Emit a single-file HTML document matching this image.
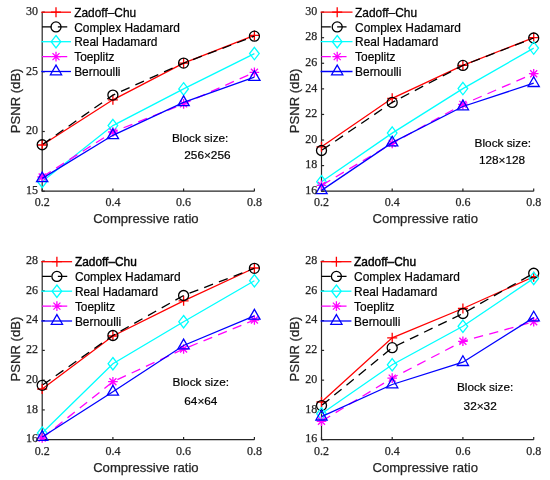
<!DOCTYPE html>
<html><head><meta charset="utf-8"><title>PSNR vs Compressive ratio</title>
<style>
html,body{margin:0;padding:0;background:#fff;width:550px;height:480px;overflow:hidden}
svg{display:block}
.tk{font-family:"Liberation Serif",serif;font-size:12px;fill:#262626;stroke:#262626;stroke-width:0.25px}
.lb{font-family:"Liberation Sans",sans-serif;font-size:13.1px;fill:#262626;stroke:#262626;stroke-width:0.25px}
.lg{font-family:"Liberation Sans",sans-serif;font-size:11.9px;fill:#000;stroke:#000;stroke-width:0.2px}
.an{font-family:"Liberation Sans",sans-serif;font-size:11.8px;fill:#000;stroke:#000;stroke-width:0.2px}
</style></head><body>
<svg width="550" height="480" viewBox="0 0 550 480">
<rect width="550" height="480" fill="#ffffff"/>
<g><path d="M42.20 12.10V191.20" stroke="#262626" stroke-width="1.2" fill="none"/><path d="M41.60 191.20H254.40" stroke="#262626" stroke-width="1.3" fill="none"/><path d="M42.20 191.20h2.6" stroke="#262626" stroke-width="1.2"/><path d="M42.20 131.50h2.6" stroke="#262626" stroke-width="1.2"/><path d="M42.20 71.80h2.6" stroke="#262626" stroke-width="1.2"/><path d="M42.20 12.10h2.6" stroke="#262626" stroke-width="1.2"/><path d="M42.20 191.20v-2.6" stroke="#262626" stroke-width="1.2"/><path d="M112.90 191.20v-2.6" stroke="#262626" stroke-width="1.2"/><path d="M183.60 191.20v-2.6" stroke="#262626" stroke-width="1.2"/><path d="M254.40 191.20v-2.6" stroke="#262626" stroke-width="1.2"/><polyline points="42.20,145.00 112.90,99.80 183.60,63.10 254.40,35.40" stroke="#ff0000" stroke-width="1.3" fill="none"/><path d="M37.20 145.00H47.20M42.20 140.00V150.00" stroke="#ff0000" stroke-width="1.3" fill="none"/><path d="M107.90 99.80H117.90M112.90 94.80V104.80" stroke="#ff0000" stroke-width="1.3" fill="none"/><path d="M178.60 63.10H188.60M183.60 58.10V68.10" stroke="#ff0000" stroke-width="1.3" fill="none"/><path d="M249.40 35.40H259.40M254.40 30.40V40.40" stroke="#ff0000" stroke-width="1.3" fill="none"/><polyline points="42.20,144.75 112.90,95.10 183.60,63.10 254.40,36.20" stroke="#000000" stroke-width="1.3" fill="none" stroke-dasharray="9.4 6.35" stroke-dashoffset="-0.8"/><circle cx="42.20" cy="144.75" r="5.0" stroke="#000000" stroke-width="1.3" fill="none"/><circle cx="112.90" cy="95.10" r="5.0" stroke="#000000" stroke-width="1.3" fill="none"/><circle cx="183.60" cy="63.10" r="5.0" stroke="#000000" stroke-width="1.3" fill="none"/><circle cx="254.40" cy="36.20" r="5.0" stroke="#000000" stroke-width="1.3" fill="none"/><polyline points="42.20,181.40 112.90,125.60 183.60,88.90 254.40,53.60" stroke="#00ffff" stroke-width="1.3" fill="none"/><path d="M42.20 175.20L47.00 181.40L42.20 187.60L37.40 181.40Z" stroke="#00ffff" stroke-width="1.3" fill="none"/><path d="M112.90 119.40L117.70 125.60L112.90 131.80L108.10 125.60Z" stroke="#00ffff" stroke-width="1.3" fill="none"/><path d="M183.60 82.70L188.40 88.90L183.60 95.10L178.80 88.90Z" stroke="#00ffff" stroke-width="1.3" fill="none"/><path d="M254.40 47.40L259.20 53.60L254.40 59.80L249.60 53.60Z" stroke="#00ffff" stroke-width="1.3" fill="none"/><polyline points="42.20,177.00 112.90,132.00 183.60,103.90 254.40,72.30" stroke="#ff00ff" stroke-width="1.3" fill="none" stroke-dasharray="9.4 6.35" stroke-dashoffset="-0.8"/><path d="M37.40 177.00H47.00M42.20 172.20V181.80M38.70 173.50L45.70 180.50M38.70 180.50L45.70 173.50" stroke="#ff00ff" stroke-width="1.3" fill="none"/><path d="M108.10 132.00H117.70M112.90 127.20V136.80M109.40 128.50L116.40 135.50M109.40 135.50L116.40 128.50" stroke="#ff00ff" stroke-width="1.3" fill="none"/><path d="M178.80 103.90H188.40M183.60 99.10V108.70M180.10 100.40L187.10 107.40M180.10 107.40L187.10 100.40" stroke="#ff00ff" stroke-width="1.3" fill="none"/><path d="M249.60 72.30H259.20M254.40 67.50V77.10M250.90 68.80L257.90 75.80M250.90 75.80L257.90 68.80" stroke="#ff00ff" stroke-width="1.3" fill="none"/><polyline points="42.20,178.40 112.90,135.30 183.60,102.30 254.40,77.10" stroke="#0000ff" stroke-width="1.3" fill="none"/><path d="M42.20 172.00L47.80 181.70L36.60 181.70Z" stroke="#0000ff" stroke-width="1.3" fill="none" stroke-linejoin="miter"/><path d="M112.90 128.90L118.50 138.60L107.30 138.60Z" stroke="#0000ff" stroke-width="1.3" fill="none" stroke-linejoin="miter"/><path d="M183.60 95.90L189.20 105.60L178.00 105.60Z" stroke="#0000ff" stroke-width="1.3" fill="none" stroke-linejoin="miter"/><path d="M254.40 70.70L260.00 80.40L248.80 80.40Z" stroke="#0000ff" stroke-width="1.3" fill="none" stroke-linejoin="miter"/><text x="38.00" y="193.90" class="tk" text-anchor="end">15</text><text x="38.00" y="134.20" class="tk" text-anchor="end">20</text><text x="38.00" y="74.50" class="tk" text-anchor="end">25</text><text x="38.00" y="14.80" class="tk" text-anchor="end">30</text><text x="42.20" y="206.00" class="tk" text-anchor="middle">0.2</text><text x="112.90" y="206.00" class="tk" text-anchor="middle">0.4</text><text x="183.60" y="206.00" class="tk" text-anchor="middle">0.6</text><text x="254.40" y="206.00" class="tk" text-anchor="middle">0.8</text><text x="145.90" y="223.00" class="lb" text-anchor="middle">Compressive ratio</text><text transform="translate(19.60,100.90) rotate(-90)" class="lb" text-anchor="middle">PSNR (dB)</text><path d="M41.30 12.20H71.00" stroke="#ff0000" stroke-width="1.3"/><path d="M51.00 12.20H61.00M56.00 7.20V17.20" stroke="#ff0000" stroke-width="1.3" fill="none"/><text x="74.20" y="16.90" class="lg" style="stroke-width:0.28px">Zadoff–Chu</text><path d="M41.30 26.95H71.00" stroke="#000000" stroke-width="1.3" stroke-dasharray="9.4 6.35" stroke-dashoffset="-0.8"/><circle cx="56.00" cy="26.95" r="5.0" stroke="#000000" stroke-width="1.3" fill="none"/><text x="74.20" y="31.65" class="lg">Complex Hadamard</text><path d="M41.30 41.70H71.00" stroke="#00ffff" stroke-width="1.3"/><path d="M56.00 35.50L60.80 41.70L56.00 47.90L51.20 41.70Z" stroke="#00ffff" stroke-width="1.3" fill="none"/><text x="74.20" y="46.40" class="lg">Real Hadamard</text><path d="M41.30 56.60H71.00" stroke="#ff00ff" stroke-width="1.3" stroke-dasharray="9.4 6.35" stroke-dashoffset="-0.8"/><path d="M51.20 56.60H60.80M56.00 51.80V61.40M52.50 53.10L59.50 60.10M52.50 60.10L59.50 53.10" stroke="#ff00ff" stroke-width="1.3" fill="none"/><text x="74.20" y="61.30" class="lg">Toeplitz</text><path d="M41.30 71.50H71.00" stroke="#0000ff" stroke-width="1.3"/><path d="M56.00 65.10L61.60 74.80L50.40 74.80Z" stroke="#0000ff" stroke-width="1.3" fill="none" stroke-linejoin="miter"/><text x="74.20" y="76.20" class="lg">Bernoulli</text><text x="172.00" y="141.60" class="an">Block size:</text><text x="184.30" y="158.50" class="an">256×256</text></g>
<g><path d="M321.50 12.10V191.20" stroke="#262626" stroke-width="1.2" fill="none"/><path d="M320.90 191.20H533.70" stroke="#262626" stroke-width="1.3" fill="none"/><path d="M321.50 191.20h2.6" stroke="#262626" stroke-width="1.2"/><path d="M321.50 165.61h2.6" stroke="#262626" stroke-width="1.2"/><path d="M321.50 140.03h2.6" stroke="#262626" stroke-width="1.2"/><path d="M321.50 114.44h2.6" stroke="#262626" stroke-width="1.2"/><path d="M321.50 88.86h2.6" stroke="#262626" stroke-width="1.2"/><path d="M321.50 63.27h2.6" stroke="#262626" stroke-width="1.2"/><path d="M321.50 37.69h2.6" stroke="#262626" stroke-width="1.2"/><path d="M321.50 12.10h2.6" stroke="#262626" stroke-width="1.2"/><path d="M321.50 191.20v-2.6" stroke="#262626" stroke-width="1.2"/><path d="M392.20 191.20v-2.6" stroke="#262626" stroke-width="1.2"/><path d="M462.90 191.20v-2.6" stroke="#262626" stroke-width="1.2"/><path d="M533.70 191.20v-2.6" stroke="#262626" stroke-width="1.2"/><polyline points="321.50,146.80 392.20,98.30 462.90,65.40 533.70,37.60" stroke="#ff0000" stroke-width="1.3" fill="none"/><path d="M316.50 146.80H326.50M321.50 141.80V151.80" stroke="#ff0000" stroke-width="1.3" fill="none"/><path d="M387.20 98.30H397.20M392.20 93.30V103.30" stroke="#ff0000" stroke-width="1.3" fill="none"/><path d="M457.90 65.40H467.90M462.90 60.40V70.40" stroke="#ff0000" stroke-width="1.3" fill="none"/><path d="M528.70 37.60H538.70M533.70 32.60V42.60" stroke="#ff0000" stroke-width="1.3" fill="none"/><polyline points="321.50,150.50 392.20,102.40 462.90,65.40 533.70,38.00" stroke="#000000" stroke-width="1.3" fill="none" stroke-dasharray="9.4 6.35" stroke-dashoffset="-0.8"/><circle cx="321.50" cy="150.50" r="5.0" stroke="#000000" stroke-width="1.3" fill="none"/><circle cx="392.20" cy="102.40" r="5.0" stroke="#000000" stroke-width="1.3" fill="none"/><circle cx="462.90" cy="65.40" r="5.0" stroke="#000000" stroke-width="1.3" fill="none"/><circle cx="533.70" cy="38.00" r="5.0" stroke="#000000" stroke-width="1.3" fill="none"/><polyline points="321.50,181.70 392.20,133.10 462.90,88.60 533.70,48.10" stroke="#00ffff" stroke-width="1.3" fill="none"/><path d="M321.50 175.50L326.30 181.70L321.50 187.90L316.70 181.70Z" stroke="#00ffff" stroke-width="1.3" fill="none"/><path d="M392.20 126.90L397.00 133.10L392.20 139.30L387.40 133.10Z" stroke="#00ffff" stroke-width="1.3" fill="none"/><path d="M462.90 82.40L467.70 88.60L462.90 94.80L458.10 88.60Z" stroke="#00ffff" stroke-width="1.3" fill="none"/><path d="M533.70 41.90L538.50 48.10L533.70 54.30L528.90 48.10Z" stroke="#00ffff" stroke-width="1.3" fill="none"/><polyline points="321.50,185.40 392.20,143.40 462.90,104.40 533.70,73.70" stroke="#ff00ff" stroke-width="1.3" fill="none" stroke-dasharray="9.4 6.35" stroke-dashoffset="-0.8"/><path d="M316.70 185.40H326.30M321.50 180.60V190.20M318.00 181.90L325.00 188.90M318.00 188.90L325.00 181.90" stroke="#ff00ff" stroke-width="1.3" fill="none"/><path d="M387.40 143.40H397.00M392.20 138.60V148.20M388.70 139.90L395.70 146.90M388.70 146.90L395.70 139.90" stroke="#ff00ff" stroke-width="1.3" fill="none"/><path d="M458.10 104.40H467.70M462.90 99.60V109.20M459.40 100.90L466.40 107.90M459.40 107.90L466.40 100.90" stroke="#ff00ff" stroke-width="1.3" fill="none"/><path d="M528.90 73.70H538.50M533.70 68.90V78.50M530.20 70.20L537.20 77.20M530.20 77.20L537.20 70.20" stroke="#ff00ff" stroke-width="1.3" fill="none"/><polyline points="321.50,190.40 392.20,142.60 462.90,106.50 533.70,83.20" stroke="#0000ff" stroke-width="1.3" fill="none"/><path d="M321.50 184.00L327.10 193.70L315.90 193.70Z" stroke="#0000ff" stroke-width="1.3" fill="none" stroke-linejoin="miter"/><path d="M392.20 136.20L397.80 145.90L386.60 145.90Z" stroke="#0000ff" stroke-width="1.3" fill="none" stroke-linejoin="miter"/><path d="M462.90 100.10L468.50 109.80L457.30 109.80Z" stroke="#0000ff" stroke-width="1.3" fill="none" stroke-linejoin="miter"/><path d="M533.70 76.80L539.30 86.50L528.10 86.50Z" stroke="#0000ff" stroke-width="1.3" fill="none" stroke-linejoin="miter"/><text x="317.30" y="193.90" class="tk" text-anchor="end">16</text><text x="317.30" y="168.31" class="tk" text-anchor="end">18</text><text x="317.30" y="142.73" class="tk" text-anchor="end">20</text><text x="317.30" y="117.14" class="tk" text-anchor="end">22</text><text x="317.30" y="91.56" class="tk" text-anchor="end">24</text><text x="317.30" y="65.97" class="tk" text-anchor="end">26</text><text x="317.30" y="40.39" class="tk" text-anchor="end">28</text><text x="317.30" y="14.80" class="tk" text-anchor="end">30</text><text x="321.50" y="206.00" class="tk" text-anchor="middle">0.2</text><text x="392.20" y="206.00" class="tk" text-anchor="middle">0.4</text><text x="462.90" y="206.00" class="tk" text-anchor="middle">0.6</text><text x="533.70" y="206.00" class="tk" text-anchor="middle">0.8</text><text x="425.20" y="223.00" class="lb" text-anchor="middle">Compressive ratio</text><text transform="translate(298.90,100.90) rotate(-90)" class="lb" text-anchor="middle">PSNR (dB)</text><path d="M320.60 12.20H352.50" stroke="#ff0000" stroke-width="1.3"/><path d="M332.20 12.20H342.20M337.20 7.20V17.20" stroke="#ff0000" stroke-width="1.3" fill="none"/><text x="355.10" y="16.90" class="lg" style="stroke-width:0.28px">Zadoff–Chu</text><path d="M320.60 26.95H352.50" stroke="#000000" stroke-width="1.3" stroke-dasharray="9.4 6.35" stroke-dashoffset="-0.8"/><circle cx="337.20" cy="26.95" r="5.0" stroke="#000000" stroke-width="1.3" fill="none"/><text x="355.10" y="31.65" class="lg">Complex Hadamard</text><path d="M320.60 41.70H352.50" stroke="#00ffff" stroke-width="1.3"/><path d="M337.20 35.50L342.00 41.70L337.20 47.90L332.40 41.70Z" stroke="#00ffff" stroke-width="1.3" fill="none"/><text x="355.10" y="46.40" class="lg">Real Hadamard</text><path d="M320.60 56.60H352.50" stroke="#ff00ff" stroke-width="1.3" stroke-dasharray="9.4 6.35" stroke-dashoffset="-0.8"/><path d="M332.40 56.60H342.00M337.20 51.80V61.40M333.70 53.10L340.70 60.10M333.70 60.10L340.70 53.10" stroke="#ff00ff" stroke-width="1.3" fill="none"/><text x="355.10" y="61.30" class="lg">Toeplitz</text><path d="M320.60 71.50H352.50" stroke="#0000ff" stroke-width="1.3"/><path d="M337.20 65.10L342.80 74.80L331.60 74.80Z" stroke="#0000ff" stroke-width="1.3" fill="none" stroke-linejoin="miter"/><text x="355.10" y="76.20" class="lg">Bernoulli</text><text x="474.60" y="146.60" class="an">Block size:</text><text x="478.90" y="164.00" class="an">128×128</text></g>
<g><path d="M42.20 261.10V439.70" stroke="#262626" stroke-width="1.2" fill="none"/><path d="M41.60 439.70H254.40" stroke="#262626" stroke-width="1.3" fill="none"/><path d="M42.20 439.70h2.6" stroke="#262626" stroke-width="1.2"/><path d="M42.20 409.93h2.6" stroke="#262626" stroke-width="1.2"/><path d="M42.20 380.17h2.6" stroke="#262626" stroke-width="1.2"/><path d="M42.20 350.40h2.6" stroke="#262626" stroke-width="1.2"/><path d="M42.20 320.63h2.6" stroke="#262626" stroke-width="1.2"/><path d="M42.20 290.87h2.6" stroke="#262626" stroke-width="1.2"/><path d="M42.20 261.10h2.6" stroke="#262626" stroke-width="1.2"/><path d="M42.20 439.70v-2.6" stroke="#262626" stroke-width="1.2"/><path d="M112.90 439.70v-2.6" stroke="#262626" stroke-width="1.2"/><path d="M183.60 439.70v-2.6" stroke="#262626" stroke-width="1.2"/><path d="M254.40 439.70v-2.6" stroke="#262626" stroke-width="1.2"/><polyline points="42.20,389.00 112.90,336.00 183.60,300.80 254.40,268.00" stroke="#ff0000" stroke-width="1.3" fill="none"/><path d="M37.20 389.00H47.20M42.20 384.00V394.00" stroke="#ff0000" stroke-width="1.3" fill="none"/><path d="M107.90 336.00H117.90M112.90 331.00V341.00" stroke="#ff0000" stroke-width="1.3" fill="none"/><path d="M178.60 300.80H188.60M183.60 295.80V305.80" stroke="#ff0000" stroke-width="1.3" fill="none"/><path d="M249.40 268.00H259.40M254.40 263.00V273.00" stroke="#ff0000" stroke-width="1.3" fill="none"/><polyline points="42.20,385.30 112.90,335.50 183.60,295.50 254.40,268.30" stroke="#000000" stroke-width="1.3" fill="none" stroke-dasharray="9.4 6.35" stroke-dashoffset="-0.8"/><circle cx="42.20" cy="385.30" r="5.0" stroke="#000000" stroke-width="1.3" fill="none"/><circle cx="112.90" cy="335.50" r="5.0" stroke="#000000" stroke-width="1.3" fill="none"/><circle cx="183.60" cy="295.50" r="5.0" stroke="#000000" stroke-width="1.3" fill="none"/><circle cx="254.40" cy="268.30" r="5.0" stroke="#000000" stroke-width="1.3" fill="none"/><polyline points="42.20,433.00 112.90,363.70 183.60,321.70 254.40,280.80" stroke="#00ffff" stroke-width="1.3" fill="none"/><path d="M42.20 426.80L47.00 433.00L42.20 439.20L37.40 433.00Z" stroke="#00ffff" stroke-width="1.3" fill="none"/><path d="M112.90 357.50L117.70 363.70L112.90 369.90L108.10 363.70Z" stroke="#00ffff" stroke-width="1.3" fill="none"/><path d="M183.60 315.50L188.40 321.70L183.60 327.90L178.80 321.70Z" stroke="#00ffff" stroke-width="1.3" fill="none"/><path d="M254.40 274.60L259.20 280.80L254.40 287.00L249.60 280.80Z" stroke="#00ffff" stroke-width="1.3" fill="none"/><polyline points="42.20,438.00 112.90,381.70 183.60,349.00 254.40,320.00" stroke="#ff00ff" stroke-width="1.3" fill="none" stroke-dasharray="9.4 6.35" stroke-dashoffset="-0.8"/><path d="M37.40 438.00H47.00M42.20 433.20V442.80M38.70 434.50L45.70 441.50M38.70 441.50L45.70 434.50" stroke="#ff00ff" stroke-width="1.3" fill="none"/><path d="M108.10 381.70H117.70M112.90 376.90V386.50M109.40 378.20L116.40 385.20M109.40 385.20L116.40 378.20" stroke="#ff00ff" stroke-width="1.3" fill="none"/><path d="M178.80 349.00H188.40M183.60 344.20V353.80M180.10 345.50L187.10 352.50M180.10 352.50L187.10 345.50" stroke="#ff00ff" stroke-width="1.3" fill="none"/><path d="M249.60 320.00H259.20M254.40 315.20V324.80M250.90 316.50L257.90 323.50M250.90 323.50L257.90 316.50" stroke="#ff00ff" stroke-width="1.3" fill="none"/><polyline points="42.20,437.00 112.90,391.80 183.60,345.50 254.40,315.80" stroke="#0000ff" stroke-width="1.3" fill="none"/><path d="M42.20 430.60L47.80 440.30L36.60 440.30Z" stroke="#0000ff" stroke-width="1.3" fill="none" stroke-linejoin="miter"/><path d="M112.90 385.40L118.50 395.10L107.30 395.10Z" stroke="#0000ff" stroke-width="1.3" fill="none" stroke-linejoin="miter"/><path d="M183.60 339.10L189.20 348.80L178.00 348.80Z" stroke="#0000ff" stroke-width="1.3" fill="none" stroke-linejoin="miter"/><path d="M254.40 309.40L260.00 319.10L248.80 319.10Z" stroke="#0000ff" stroke-width="1.3" fill="none" stroke-linejoin="miter"/><text x="38.00" y="442.40" class="tk" text-anchor="end">16</text><text x="38.00" y="412.63" class="tk" text-anchor="end">18</text><text x="38.00" y="382.87" class="tk" text-anchor="end">20</text><text x="38.00" y="353.10" class="tk" text-anchor="end">22</text><text x="38.00" y="323.33" class="tk" text-anchor="end">24</text><text x="38.00" y="293.57" class="tk" text-anchor="end">26</text><text x="38.00" y="263.80" class="tk" text-anchor="end">28</text><text x="42.20" y="454.50" class="tk" text-anchor="middle">0.2</text><text x="112.90" y="454.50" class="tk" text-anchor="middle">0.4</text><text x="183.60" y="454.50" class="tk" text-anchor="middle">0.6</text><text x="254.40" y="454.50" class="tk" text-anchor="middle">0.8</text><text x="145.90" y="471.50" class="lb" text-anchor="middle">Compressive ratio</text><text transform="translate(19.60,349.10) rotate(-90)" class="lb" text-anchor="middle">PSNR (dB)</text><path d="M41.30 261.70H72.10" stroke="#ff0000" stroke-width="1.3"/><path d="M51.90 261.70H61.90M56.90 256.70V266.70" stroke="#ff0000" stroke-width="1.3" fill="none"/><text x="74.90" y="266.40" class="lg" style="stroke-width:0.42px">Zadoff–Chu</text><path d="M41.30 276.45H72.10" stroke="#000000" stroke-width="1.3" stroke-dasharray="9.4 6.35" stroke-dashoffset="-0.8"/><circle cx="56.90" cy="276.45" r="5.0" stroke="#000000" stroke-width="1.3" fill="none"/><text x="74.90" y="281.15" class="lg">Complex Hadamard</text><path d="M41.30 291.20H72.10" stroke="#00ffff" stroke-width="1.3"/><path d="M56.90 285.00L61.70 291.20L56.90 297.40L52.10 291.20Z" stroke="#00ffff" stroke-width="1.3" fill="none"/><text x="74.90" y="295.90" class="lg">Real Hadamard</text><path d="M41.30 306.10H72.10" stroke="#ff00ff" stroke-width="1.3" stroke-dasharray="9.4 6.35" stroke-dashoffset="-0.8"/><path d="M52.10 306.10H61.70M56.90 301.30V310.90M53.40 302.60L60.40 309.60M53.40 309.60L60.40 302.60" stroke="#ff00ff" stroke-width="1.3" fill="none"/><text x="74.90" y="310.80" class="lg">Toeplitz</text><path d="M41.30 321.00H72.10" stroke="#0000ff" stroke-width="1.3"/><path d="M56.90 314.60L62.50 324.30L51.30 324.30Z" stroke="#0000ff" stroke-width="1.3" fill="none" stroke-linejoin="miter"/><text x="74.90" y="325.70" class="lg">Bernoulli</text><text x="172.60" y="385.90" class="an">Block size:</text><text x="184.30" y="404.90" class="an">64×64</text></g>
<g><path d="M321.50 261.10V439.70" stroke="#262626" stroke-width="1.2" fill="none"/><path d="M320.90 439.70H533.70" stroke="#262626" stroke-width="1.3" fill="none"/><path d="M321.50 439.70h2.6" stroke="#262626" stroke-width="1.2"/><path d="M321.50 409.93h2.6" stroke="#262626" stroke-width="1.2"/><path d="M321.50 380.17h2.6" stroke="#262626" stroke-width="1.2"/><path d="M321.50 350.40h2.6" stroke="#262626" stroke-width="1.2"/><path d="M321.50 320.63h2.6" stroke="#262626" stroke-width="1.2"/><path d="M321.50 290.87h2.6" stroke="#262626" stroke-width="1.2"/><path d="M321.50 261.10h2.6" stroke="#262626" stroke-width="1.2"/><path d="M321.50 439.70v-2.6" stroke="#262626" stroke-width="1.2"/><path d="M392.20 439.70v-2.6" stroke="#262626" stroke-width="1.2"/><path d="M462.90 439.70v-2.6" stroke="#262626" stroke-width="1.2"/><path d="M533.70 439.70v-2.6" stroke="#262626" stroke-width="1.2"/><polyline points="321.50,402.00 392.20,337.80 462.90,308.50 533.70,276.75" stroke="#ff0000" stroke-width="1.3" fill="none"/><path d="M316.50 402.00H326.50M321.50 397.00V407.00" stroke="#ff0000" stroke-width="1.3" fill="none"/><path d="M387.20 337.80H397.20M392.20 332.80V342.80" stroke="#ff0000" stroke-width="1.3" fill="none"/><path d="M457.90 308.50H467.90M462.90 303.50V313.50" stroke="#ff0000" stroke-width="1.3" fill="none"/><path d="M528.70 276.75H538.70M533.70 271.75V281.75" stroke="#ff0000" stroke-width="1.3" fill="none"/><polyline points="321.50,405.60 392.20,347.70 462.90,313.50 533.70,273.25" stroke="#000000" stroke-width="1.3" fill="none" stroke-dasharray="9.4 6.35" stroke-dashoffset="-0.8"/><circle cx="321.50" cy="405.60" r="5.0" stroke="#000000" stroke-width="1.3" fill="none"/><circle cx="392.20" cy="347.70" r="5.0" stroke="#000000" stroke-width="1.3" fill="none"/><circle cx="462.90" cy="313.50" r="5.0" stroke="#000000" stroke-width="1.3" fill="none"/><circle cx="533.70" cy="273.25" r="5.0" stroke="#000000" stroke-width="1.3" fill="none"/><polyline points="321.50,413.80 392.20,364.80 462.90,326.30 533.70,278.40" stroke="#00ffff" stroke-width="1.3" fill="none"/><path d="M321.50 407.60L326.30 413.80L321.50 420.00L316.70 413.80Z" stroke="#00ffff" stroke-width="1.3" fill="none"/><path d="M392.20 358.60L397.00 364.80L392.20 371.00L387.40 364.80Z" stroke="#00ffff" stroke-width="1.3" fill="none"/><path d="M462.90 320.10L467.70 326.30L462.90 332.50L458.10 326.30Z" stroke="#00ffff" stroke-width="1.3" fill="none"/><path d="M533.70 272.20L538.50 278.40L533.70 284.60L528.90 278.40Z" stroke="#00ffff" stroke-width="1.3" fill="none"/><polyline points="321.50,421.25 392.20,378.10 462.90,341.30 533.70,321.70" stroke="#ff00ff" stroke-width="1.3" fill="none" stroke-dasharray="9.4 6.35" stroke-dashoffset="-0.8"/><path d="M316.70 421.25H326.30M321.50 416.45V426.05M318.00 417.75L325.00 424.75M318.00 424.75L325.00 417.75" stroke="#ff00ff" stroke-width="1.3" fill="none"/><path d="M387.40 378.10H397.00M392.20 373.30V382.90M388.70 374.60L395.70 381.60M388.70 381.60L395.70 374.60" stroke="#ff00ff" stroke-width="1.3" fill="none"/><path d="M458.10 341.30H467.70M462.90 336.50V346.10M459.40 337.80L466.40 344.80M459.40 344.80L466.40 337.80" stroke="#ff00ff" stroke-width="1.3" fill="none"/><path d="M528.90 321.70H538.50M533.70 316.90V326.50M530.20 318.20L537.20 325.20M530.20 325.20L537.20 318.20" stroke="#ff00ff" stroke-width="1.3" fill="none"/><polyline points="321.50,416.70 392.20,384.50 462.90,362.20 533.70,317.60" stroke="#0000ff" stroke-width="1.3" fill="none"/><path d="M321.50 410.30L327.10 420.00L315.90 420.00Z" stroke="#0000ff" stroke-width="1.3" fill="none" stroke-linejoin="miter"/><path d="M392.20 378.10L397.80 387.80L386.60 387.80Z" stroke="#0000ff" stroke-width="1.3" fill="none" stroke-linejoin="miter"/><path d="M462.90 355.80L468.50 365.50L457.30 365.50Z" stroke="#0000ff" stroke-width="1.3" fill="none" stroke-linejoin="miter"/><path d="M533.70 311.20L539.30 320.90L528.10 320.90Z" stroke="#0000ff" stroke-width="1.3" fill="none" stroke-linejoin="miter"/><text x="317.30" y="442.40" class="tk" text-anchor="end">16</text><text x="317.30" y="412.63" class="tk" text-anchor="end">18</text><text x="317.30" y="382.87" class="tk" text-anchor="end">20</text><text x="317.30" y="353.10" class="tk" text-anchor="end">22</text><text x="317.30" y="323.33" class="tk" text-anchor="end">24</text><text x="317.30" y="293.57" class="tk" text-anchor="end">26</text><text x="317.30" y="263.80" class="tk" text-anchor="end">28</text><text x="321.50" y="454.50" class="tk" text-anchor="middle">0.2</text><text x="392.20" y="454.50" class="tk" text-anchor="middle">0.4</text><text x="462.90" y="454.50" class="tk" text-anchor="middle">0.6</text><text x="533.70" y="454.50" class="tk" text-anchor="middle">0.8</text><text x="425.20" y="471.50" class="lb" text-anchor="middle">Compressive ratio</text><text transform="translate(298.90,349.10) rotate(-90)" class="lb" text-anchor="middle">PSNR (dB)</text><path d="M320.60 261.70H351.40" stroke="#ff0000" stroke-width="1.3"/><path d="M331.40 261.70H341.40M336.40 256.70V266.70" stroke="#ff0000" stroke-width="1.3" fill="none"/><text x="354.10" y="266.40" class="lg" style="stroke-width:0.42px">Zadoff–Chu</text><path d="M320.60 276.45H351.40" stroke="#000000" stroke-width="1.3" stroke-dasharray="9.4 6.35" stroke-dashoffset="-0.8"/><circle cx="336.40" cy="276.45" r="5.0" stroke="#000000" stroke-width="1.3" fill="none"/><text x="354.10" y="281.15" class="lg">Complex Hadamard</text><path d="M320.60 291.20H351.40" stroke="#00ffff" stroke-width="1.3"/><path d="M336.40 285.00L341.20 291.20L336.40 297.40L331.60 291.20Z" stroke="#00ffff" stroke-width="1.3" fill="none"/><text x="354.10" y="295.90" class="lg">Real Hadamard</text><path d="M320.60 306.10H351.40" stroke="#ff00ff" stroke-width="1.3" stroke-dasharray="9.4 6.35" stroke-dashoffset="-0.8"/><path d="M331.60 306.10H341.20M336.40 301.30V310.90M332.90 302.60L339.90 309.60M332.90 309.60L339.90 302.60" stroke="#ff00ff" stroke-width="1.3" fill="none"/><text x="354.10" y="310.80" class="lg">Toeplitz</text><path d="M320.60 321.00H351.40" stroke="#0000ff" stroke-width="1.3"/><path d="M336.40 314.60L342.00 324.30L330.80 324.30Z" stroke="#0000ff" stroke-width="1.3" fill="none" stroke-linejoin="miter"/><text x="354.10" y="325.70" class="lg">Bernoulli</text><text x="456.90" y="391.00" class="an">Block size:</text><text x="463.60" y="409.60" class="an">32×32</text></g>
</svg>
</body></html>
